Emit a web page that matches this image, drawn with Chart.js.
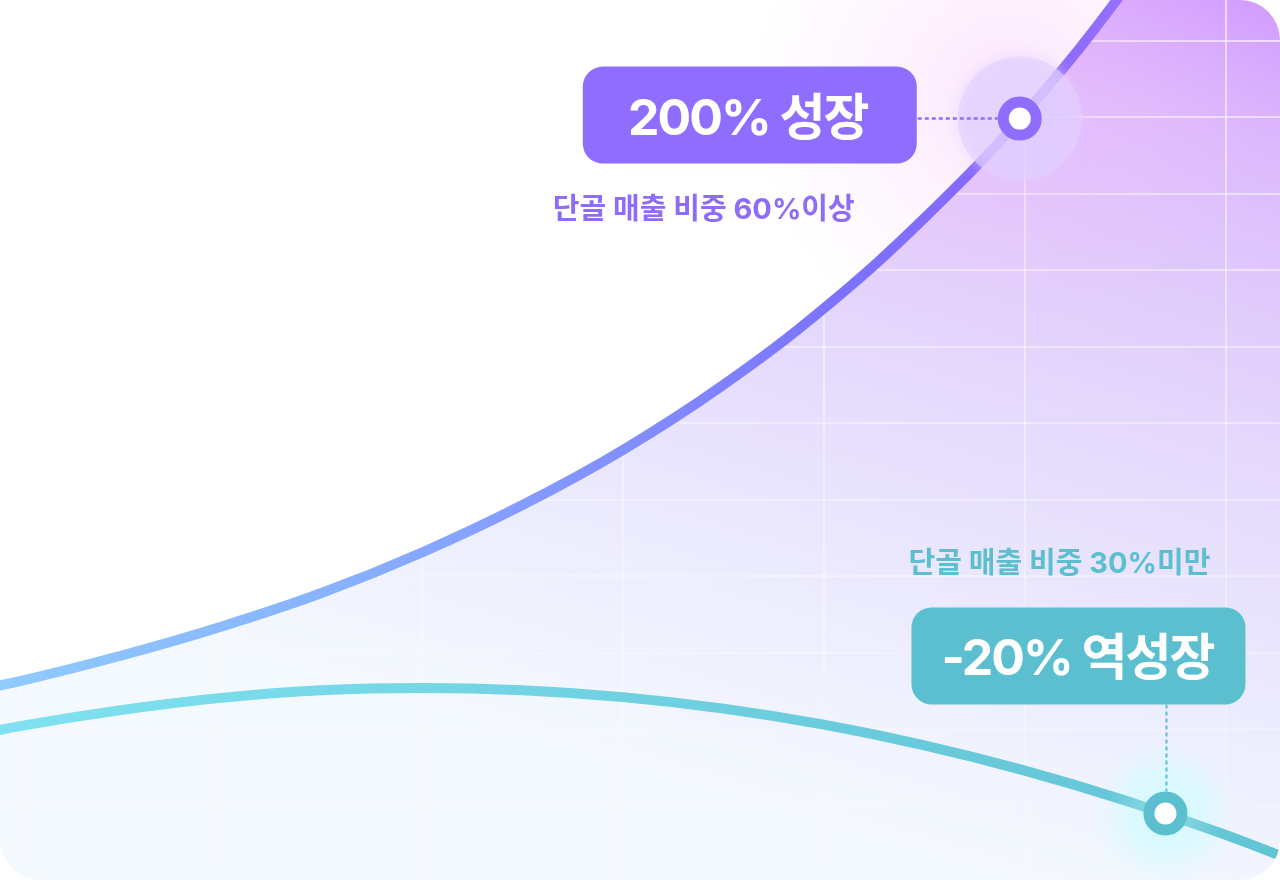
<!DOCTYPE html>
<html lang="ko">
<head>
<meta charset="utf-8">
<title>단골 매출 비중별 성장</title>
<script src="https://cdn.jsdelivr.net/npm/chart.js@4.4.1/dist/chart.umd.min.js"></script>
<style>
    html, body { margin: 0; padding: 0; background: #ffffff; }
    #card {
        position: relative;
        width: 1280px;
        height: 880px;
        border-radius: 40px;
        overflow: hidden;
        background: #ffffff;
    }
</style>
</head>
<body>
<div id="card"><canvas id="growthChart"></canvas></div>
<script>
// x: 기간, y: 매출 성장 지수
const periods = [-1.5, -1, -0.5, 0, 0.5, 1, 1.5, 2, 2.5, 3, 3.5, 4, 4.5, 5, 5.5];
const highLoyaltyIndex = [23.6, 26.3, 29.6, 33.4, 37.8, 43.1, 49.3, 56.5, 65.0, 75.0, 86.8, 100.5, 116.8, 135.8, 158.0];
const lowLoyaltyIndex = [17.8, 20.4, 22.5, 24.1, 25.1, 25.4, 25.1, 24.2, 22.7, 20.6, 17.9, 14.6, 10.7, 6.2, 1.1];
const highlightPoints = [{ x: 3.975, y: 99.8 }, { x: 4.7, y: 9.0 }];
const seriesLabels = ['단골 매출 비중 60%이상', '단골 매출 비중 30%미만'];
const calloutTexts = ['200% 성장', '-20% 역성장'];

document.addEventListener('DOMContentLoaded', function() {
    const PURPLE = '#8f6dff';
    const TEAL = '#5bbfcf';
    const ctx = document.getElementById('growthChart').getContext('2d');

    function toPoints(values) {
        return periods.map((x, i) => ({ x: x, y: values[i] }));
    }

    function areaOf(context) {
        return context.chart.chartArea;
    }

    function fillGradient(context) {
        const area = areaOf(context);
        if (!area) return 'rgba(226,206,252,1)';
        const g = context.chart.ctx.createLinearGradient(area.right, area.top, area.right - 260, area.bottom);
        g.addColorStop(0, 'rgb(210,156,255)');
        g.addColorStop(0.15, 'rgb(220,184,253)');
        g.addColorStop(0.35, 'rgb(225,205,252)');
        g.addColorStop(0.55, 'rgb(230,221,253)');
        g.addColorStop(0.78, 'rgb(237,237,254)');
        g.addColorStop(1, 'rgb(244,249,254)');
        return g;
    }

    function purpleLine(context) {
        const area = areaOf(context);
        if (!area) return PURPLE;
        const g = context.chart.ctx.createLinearGradient(area.left, 0, area.left + 1120, 0);
        g.addColorStop(0, '#8fcbff');
        g.addColorStop(0.3, '#88b2ff');
        g.addColorStop(0.55, '#8290ff');
        g.addColorStop(0.75, '#7c72ff');
        g.addColorStop(0.9, '#8868ff');
        g.addColorStop(1, '#956fff');
        return g;
    }

    function tealLine(context) {
        const area = areaOf(context);
        if (!area) return TEAL;
        const g = context.chart.ctx.createLinearGradient(area.left, 0, area.right, 0);
        g.addColorStop(0, '#80e1f1');
        g.addColorStop(0.35, '#74d5e6');
        g.addColorStop(0.7, '#69cadb');
        g.addColorStop(1, '#62c5d5');
        return g;
    }

    function verticalGrid(context) {
        const area = areaOf(context);
        if (!area) return 'rgba(255,255,255,0.4)';
        const g = context.chart.ctx.createLinearGradient(0, area.top, 0, area.bottom);
        g.addColorStop(0, 'rgba(255,255,255,0.6)');
        g.addColorStop(0.6, 'rgba(255,255,255,0.35)');
        g.addColorStop(1, 'rgba(255,255,255,0.12)');
        return g;
    }

    function horizontalGrid(context) {
        const v = context.tick ? context.tick.value : 0;
        return 'rgba(255,255,255,' + (0.15 + 0.45 * v / 110).toFixed(2) + ')';
    }

    // 글로우, 말풍선, 설명 문구
    const decorPlugin = {
        id: 'decor',
        beforeDatasetsDraw(chart) {
            const c = chart.ctx;
            const area = chart.chartArea;
            const p = chart.getDatasetMeta(2).data[0];
            const g = c.createRadialGradient(p.x - 10, p.y - 20, 0, p.x - 10, p.y - 20, 260);
            g.addColorStop(0, 'rgba(248,188,250,0.38)');
            g.addColorStop(0.6, 'rgba(248,196,250,0.14)');
            g.addColorStop(1, 'rgba(248,196,250,0)');
            c.save();
            c.fillStyle = g;
            c.fillRect(area.left, area.top, area.right - area.left, area.bottom - area.top);
            c.restore();

            // 하단 포인트 글로우 (라인 아래)
            const q = chart.getDatasetMeta(2).data[1];
            const h = c.createRadialGradient(q.x, q.y, 0, q.x, q.y, 75);
            h.addColorStop(0, 'rgba(200,250,255,0.95)');
            h.addColorStop(0.55, 'rgba(212,251,255,0.6)');
            h.addColorStop(1, 'rgba(220,252,255,0)');
            c.save();
            c.fillStyle = h;
            c.beginPath();
            c.arc(q.x, q.y, 75, 0, Math.PI * 2);
            c.fill();
            c.restore();
        },
        beforeDatasetDraw(chart, args) {
            if (args.index !== 2) return;
            const c = chart.ctx;
            const p = chart.getDatasetMeta(2).data[0];
            const q = chart.getDatasetMeta(2).data[1];

            c.save();
            c.shadowColor = 'rgba(224,204,255,0.9)';
            c.shadowBlur = 16;
            c.fillStyle = 'rgba(226,208,255,0.62)';
            c.beginPath();
            c.arc(p.x, p.y, 62, 0, Math.PI * 2);
            c.fill();
            c.restore();

            const g = c.createRadialGradient(q.x, q.y, 0, q.x, q.y, 60);
            g.addColorStop(0, 'rgba(215,252,255,0.4)');
            g.addColorStop(1, 'rgba(220,252,255,0)');
            c.save();
            c.fillStyle = g;
            c.beginPath();
            c.arc(q.x, q.y, 60, 0, Math.PI * 2);
            c.fill();
            c.restore();
        },
        afterDraw(chart) {
            const c = chart.ctx;
            const p = chart.getDatasetMeta(2).data[0];
            const q = chart.getDatasetMeta(2).data[1];

            c.save();
            // 점선 연결
            c.lineWidth = 2.5;
            c.setLineDash([4, 3]);
            c.strokeStyle = PURPLE;
            c.beginPath();
            c.moveTo(p.x - 102, p.y);
            c.lineTo(p.x - 22, p.y);
            c.stroke();
            c.lineWidth = 2;
            c.strokeStyle = TEAL;
            c.beginPath();
            c.moveTo(q.x + 1, q.y - 109);
            c.lineTo(q.x + 1, q.y - 22);
            c.stroke();
            c.setLineDash([]);

            // 말풍선 박스
            c.fillStyle = PURPLE;
            c.beginPath();
            c.roundRect(p.x - 437, p.y - 52, 334, 97, 20);
            c.fill();
            c.fillStyle = TEAL;
            c.beginPath();
            c.roundRect(q.x - 254, q.y - 206, 334, 97, 20);
            c.fill();

            c.textAlign = 'center';
            c.textBaseline = 'alphabetic';
            c.fillStyle = '#ffffff';
            c.font = "700 50px Inter, 'Noto Sans CJK KR', sans-serif";
            c.letterSpacing = '-2px';
            c.fillText(calloutTexts[0], p.x - 272, p.y + 16);
            c.fillText(calloutTexts[1], q.x - 88, q.y - 138);

            c.font = "700 29px Inter, 'Noto Sans CJK KR', sans-serif";
            c.letterSpacing = '0px';
            c.fillStyle = '#8e6cf8';
            c.fillText(seriesLabels[0], p.x - 316, p.y + 100);
            c.fillStyle = TEAL;
            c.fillText(seriesLabels[1], q.x - 106, q.y - 240);
            c.restore();
        }
    };

    new Chart(ctx, {
        type: 'line',
        data: {
            datasets: [
                {
                    label: seriesLabels[0],
                    data: toPoints(highLoyaltyIndex),
                    borderColor: purpleLine,
                    backgroundColor: fillGradient,
                    borderWidth: 10,
                    fill: 'start',
                    pointRadius: 0,
                    tension: 0.4,
                    order: 1
                },
                {
                    label: seriesLabels[1],
                    data: toPoints(lowLoyaltyIndex),
                    borderColor: tealLine,
                    borderWidth: 10,
                    fill: false,
                    pointRadius: 0,
                    tension: 0.4,
                    order: 2
                },
                {
                    label: 'highlight',
                    data: highlightPoints,
                    showLine: false,
                    fill: false,
                    pointRadius: 16.5,
                    pointBorderWidth: 11,
                    pointBackgroundColor: '#ffffff',
                    pointBorderColor: [PURPLE, TEAL],
                    order: 0
                }
            ]
        },
        options: {
            responsive: true,
            maintainAspectRatio: false,
            animation: false,
            events: [],
            layout: { padding: 0, autoPadding: false },
            scales: {
                x: {
                    type: 'linear',
                    min: -1.1,
                    max: 5.27,
                    ticks: { display: false, stepSize: 1, includeBounds: false },
                    grid: { color: verticalGrid, lineWidth: 2, drawTicks: false },
                    border: { display: false }
                },
                y: {
                    min: 0.3,
                    max: 115.3,
                    ticks: { display: false, stepSize: 10, includeBounds: false },
                    grid: { color: horizontalGrid, lineWidth: 2, drawTicks: false },
                    border: { display: false }
                }
            },
            plugins: {
                legend: { display: false },
                tooltip: { enabled: false },
                filler: { drawTime: 'beforeDraw' }
            }
        },
        plugins: [decorPlugin]
    });
});
</script>
</body>
</html>
